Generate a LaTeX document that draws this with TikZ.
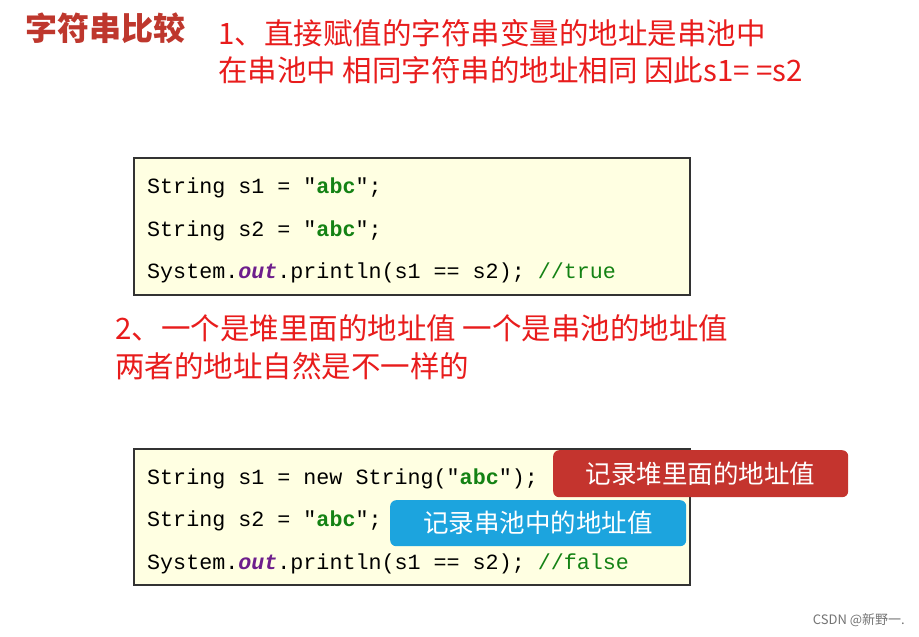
\documentclass[tikz,border=0pt]{standalone}
\usepackage{fontspec}
\newfontfamily\cjk{Noto Sans CJK SC}
\setmonofont{Liberation Mono}
\definecolor{tred}{RGB}{232,28,28}
\definecolor{ttl}{RGB}{190,55,45}
\definecolor{codebg}{RGB}{255,255,226}
\definecolor{kgreen}{RGB}{20,130,20}
\definecolor{kpurple}{RGB}{110,30,140}
\definecolor{cred}{RGB}{196,52,46}
\definecolor{cblue}{RGB}{28,164,222}
\begin{document}
\begin{tikzpicture}[x=1pt,y=-1pt,
  note/.style={anchor=west,inner sep=0,text=tred,font=\cjk\fontsize{29.5}{33}\selectfont},
  code/.style={anchor=west,inner sep=0,font=\ttfamily\fontsize{21.7}{24}\selectfont},
  box/.style={draw=black!80,line width=1.5pt,fill=codebg},
  callout/.style={rounded corners=6pt,text=white,font=\cjk\fontsize{25.5}{28}\selectfont,inner sep=0}]
\useasboundingbox (0,0) rectangle (919,637);
\node[anchor=west,inner sep=0,text=ttl,font=\cjk\bfseries\fontsize{32}{36}\selectfont] (title) at (25,28) {字符串比较};
\node[note] (n1) at (218,33) {1、直接赋值的字符串变量的地址是串池中};
\node[note] (n2) at (218,70) {在串池中 相同字符串的地址相同 因此s1= =s2};
\node[box,minimum width=556,minimum height=137,anchor=north west,inner sep=0] (b1) at (133,157) {};
\node[code] (c1) at (147,188) {String s1 = "\textbf{\color{kgreen}abc}";};
\node[code] (c2) at (147,231) {String s2 = "\textbf{\color{kgreen}abc}";};
\node[code] (c3) at (147,273) {System.\textbf{\textit{\color{kpurple}out}}.println(s1 == s2); {\color{kgreen}//true}};
\node[note] (n3) at (115,328) {2、一个是堆里面的地址值 一个是串池的地址值};
\node[note] (n4) at (115,366) {两者的地址自然是不一样的};
\node[box,minimum width=556,minimum height=136,anchor=north west,inner sep=0] (b2) at (133,448) {};
\node[code] (d1) at (147,479) {String s1 = new String("\textbf{\color{kgreen}abc}");};
\node[code] (d2) at (147,521) {String s2 = "\textbf{\color{kgreen}abc}";};
\node[code] (d3) at (147,564) {System.\textbf{\textit{\color{kpurple}out}}.println(s1 == s2); {\color{kgreen}//false}};
\node[callout,fill=cred,minimum width=295,minimum height=47,anchor=north west] (r) at (553,450) {记录堆里面的地址值};
\node[callout,fill=cblue,minimum width=296,minimum height=46,anchor=north west] (bl) at (390,500) {记录串池中的地址值};
\node[anchor=east,inner sep=0,text=black!55,font=\cjk\fontsize{13}{15}\selectfont] (wm) at (905,620) {CSDN @新野一.};
\end{tikzpicture}
\end{document}
